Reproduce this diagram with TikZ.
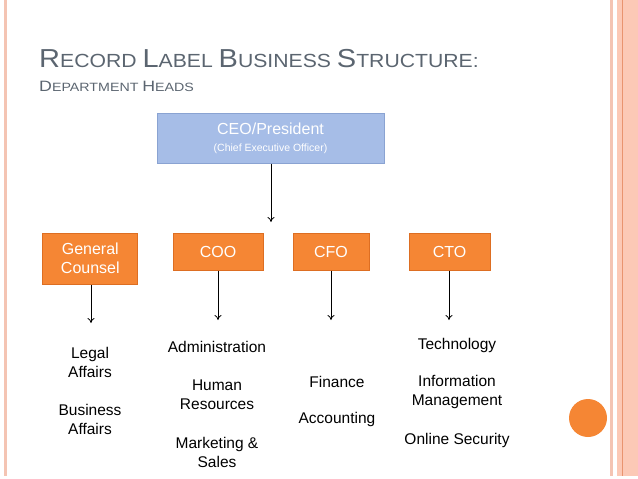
\documentclass[tikz,border=0pt]{standalone}
\usepackage{fontspec}
\setmainfont{Liberation Sans}
\usepackage{tikz}
\usetikzlibrary{arrows.meta, positioning}
\usepackage{xcolor}

\definecolor{slidegray}{HTML}{5B6570}
\definecolor{ceoblue}{HTML}{A6BDE7}
\definecolor{ceoedge}{HTML}{8AA3D2}
\definecolor{headorange}{HTML}{F58634}
\definecolor{headedge}{HTML}{DD6E22}
\definecolor{edgepink}{HTML}{F4C4B3}
\definecolor{bandpink}{HTML}{FCC9B6}
\definecolor{bandline}{HTML}{E9946F}

\newcommand{\tbig}[1]{{\fontsize{26}{30}\selectfont #1}}
\newcommand{\tsmall}[1]{{\fontsize{19}{22}\selectfont #1}}
\newcommand{\sbig}[1]{{\fontsize{15}{18}\selectfont #1}}
\newcommand{\ssmall}[1]{{\fontsize{12}{14}\selectfont #1}}

\tikzset{
  head/.style={draw=headedge, fill=headorange, text=white, line width=1pt,
               font=\fontsize{16}{19}\selectfont, align=center, inner sep=0pt},
  duty/.style={font=\fontsize{15.5}{19}\selectfont, align=center, inner sep=0pt},
  down/.style={draw=black, line width=0.8pt, -{To[length=5pt,width=7pt]}},
}

\begin{document}
\begin{tikzpicture}[x=1pt, y=-1pt]
\useasboundingbox (0,0) rectangle (638,479);

% slide frame
\fill[edgepink] (4,0) rectangle (6.5,476);
\fill[edgepink] (610,0) rectangle (612.5,476);
\fill[bandpink] (617,0) rectangle (638,476);
\draw[bandline, line width=1pt] (622,0) -- (622,476);
\fill[headorange] (588,418) circle (19);

% title
\node[anchor=base west, inner sep=0pt, text=slidegray, xscale=1.115, transform shape]
  (title) at (39,67.5)
  {\tbig{R}\tsmall{ECORD }\tbig{L}\tsmall{ABEL }\tbig{B}\tsmall{USINESS }\tbig{S}\tsmall{TRUCTURE:}};
\node[anchor=base west, inner sep=0pt, text=slidegray, xscale=1.185, transform shape]
  (subtitle) at (39,91.5)
  {\sbig{D}\ssmall{EPARTMENT }\sbig{H}\ssmall{EADS}};

% heads
\node[draw=ceoedge, fill=ceoblue, text=white, line width=1pt, align=center,
      minimum width=227pt, minimum height=50pt, inner sep=0pt]
  (ceo) at (270.5,138)
  {\fontsize{16}{16}\selectfont CEO/President\\[5pt]
   \fontsize{10.5}{13}\selectfont (Chief Executive Officer)};

\node[head, minimum width=95pt, minimum height=51pt] (gc)  at (90.3,258.5) {General\\Counsel};
\node[head, minimum width=90pt, minimum height=37pt] (coo) at (218,251.5) {COO};
\node[head, minimum width=76pt, minimum height=37pt] (cfo) at (331,251.5) {CFO};
\node[head, minimum width=81pt, minimum height=37pt] (cto) at (449.5,251.5) {CTO};

\coordinate (ceoend) at (271,222);
\coordinate (gcend)  at (91,323);
\coordinate (cooend) at (218,320);
\coordinate (cfoend) at (331,320);
\coordinate (ctoend) at (449,320);

\draw[down] (ceo.south -| ceoend) -- (ceoend);
\draw[down] (gc.south -| gcend) -- (gcend);
\draw[down] (coo.south -| cooend) -- (cooend);
\draw[down] (cfo.south -| cfoend) -- (cfoend);
\draw[down] (cto.south -| ctoend) -- (ctoend);

% departments
\node[duty] (legal)    at (90,362)  {Legal\\Affairs};
\node[duty] (business) at (90,419)  {Business\\Affairs};
\node[duty] (admin)    at (217,347) {Administration};
\node[duty] (hr)       at (217,395) {Human\\Resources};
\node[duty] (mkt)      at (217,452) {Marketing \&\\Sales};
\node[duty] (fin)      at (337,382) {Finance};
\node[duty] (acc)      at (337,419) {Accounting};
\node[duty] (tech)     at (457,345) {Technology};
\node[duty] (info)     at (457,392) {Information\\Management};
\node[duty] (sec)      at (457,440) {Online Security};
\end{tikzpicture}
\end{document}
